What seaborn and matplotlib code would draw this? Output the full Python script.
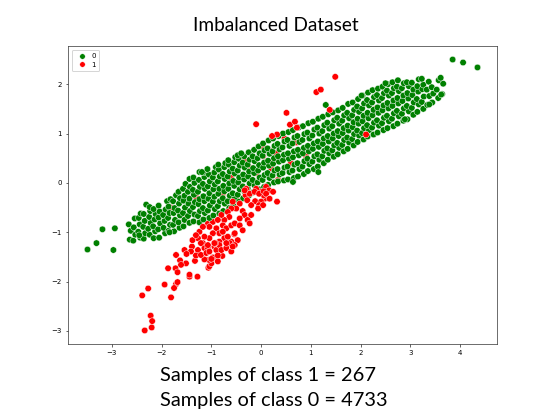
import matplotlib
matplotlib.use("Agg")
import matplotlib.pyplot as plt
import pandas as pd
import seaborn as sns

# class 0 (green band), points from left to right
green_pts = [
    (-2.64, -1.15), (-2.62, -0.97), (-2.66, -0.84),
    (-2.57, -1.17), (-2.53, -1.05), (-2.56, -0.90), (-2.54, -0.72),
    (-2.43, -1.11), (-2.47, -0.99), (-2.44, -0.84), (-2.46, -0.71), (-2.42, -0.62),
    (-2.36, -1.13), (-2.33, -1.02), (-2.37, -0.89), (-2.34, -0.77), (-2.36, -0.63), (-2.31, -0.44),
    (-2.24, -1.05), (-2.27, -0.93), (-2.22, -0.81), (-2.25, -0.69), (-2.23, -0.57), (-2.24, -0.49),
    (-2.16, -1.12), (-2.13, -0.98), (-2.17, -0.88), (-2.14, -0.74), (-2.12, -0.63), (-2.16, -0.53),
    (-2.05, -1.11), (-2.07, -0.94), (-2.03, -0.82), (-2.06, -0.70), (-2.04, -0.58), (-2.06, -0.46),
    (-1.93, -1.02), (-1.96, -0.91), (-1.94, -0.77), (-1.97, -0.65), (-1.92, -0.54), (-1.89, -0.37),
    (-1.86, -0.97), (-1.83, -0.85), (-1.87, -0.71), (-1.84, -0.61), (-1.86, -0.48), (-1.82, -0.33),
    (-1.75, -0.98), (-1.77, -0.85), (-1.73, -0.75), (-1.76, -0.61), (-1.74, -0.51), (-1.77, -0.37),
    (-1.71, -0.25),
    (-1.64, -0.91), (-1.66, -0.80), (-1.63, -0.66), (-1.67, -0.56), (-1.65, -0.42), (-1.63, -0.31),
    (-1.66, -0.18),
    (-1.56, -0.88), (-1.54, -0.75), (-1.57, -0.61), (-1.53, -0.50), (-1.56, -0.36), (-1.54, -0.26),
    (-1.57, -0.12), (-1.52, -0.02),
    (-1.44, -0.81), (-1.47, -0.67), (-1.43, -0.57), (-1.46, -0.42), (-1.44, -0.32), (-1.47, -0.18),
    (-1.43, -0.08), (-1.44, 0.08),
    (-1.36, -0.78), (-1.34, -0.64), (-1.37, -0.49), (-1.33, -0.39), (-1.35, -0.24), (-1.37, -0.14),
    (-1.34, 0.00), (-1.36, 0.11),
    (-1.24, -0.80), (-1.27, -0.67), (-1.23, -0.57), (-1.26, -0.43), (-1.24, -0.33), (-1.27, -0.18),
    (-1.23, -0.08), (-1.25, 0.06), (-1.24, 0.22),
    (-1.16, -0.74), (-1.13, -0.61), (-1.17, -0.51), (-1.14, -0.37), (-1.16, -0.27), (-1.13, -0.12),
    (-1.17, -0.02), (-1.14, 0.12), (-1.16, 0.21),
    (-1.04, -0.71), (-1.07, -0.56), (-1.03, -0.46), (-1.06, -0.32), (-1.04, -0.21), (-1.07, -0.07),
    (-1.03, 0.03), (-1.05, 0.17), (-1.08, 0.28),
    (-0.96, -0.66), (-0.93, -0.53), (-0.97, -0.38), (-0.94, -0.28), (-0.96, -0.13), (-0.93, -0.03),
    (-0.97, 0.11), (-0.94, 0.21), (-0.91, 0.32),
    (-0.84, -0.62), (-0.87, -0.47), (-0.83, -0.37), (-0.86, -0.22), (-0.84, -0.12), (-0.87, 0.03),
    (-0.83, 0.13), (-0.85, 0.27), (-0.86, 0.37),
    (-0.76, -0.57), (-0.73, -0.42), (-0.77, -0.31), (-0.74, -0.17), (-0.76, -0.06), (-0.73, 0.08),
    (-0.77, 0.18), (-0.74, 0.32), (-0.72, 0.40),
    (-0.64, -0.51), (-0.67, -0.37), (-0.63, -0.26), (-0.66, -0.12), (-0.64, -0.01), (-0.67, 0.13),
    (-0.63, 0.23), (-0.65, 0.37), (-0.66, 0.46),
    (-0.56, -0.46), (-0.53, -0.32), (-0.57, -0.21), (-0.54, -0.06), (-0.56, 0.04), (-0.53, 0.19),
    (-0.57, 0.29), (-0.54, 0.42), (-0.52, 0.52),
    (-0.44, -0.38), (-0.47, -0.24), (-0.43, -0.13), (-0.46, 0.01), (-0.44, 0.11), (-0.47, 0.25),
    (-0.43, 0.35), (-0.45, 0.49), (-0.47, 0.56),
    (-0.36, -0.31), (-0.33, -0.18), (-0.37, -0.07), (-0.34, 0.07), (-0.36, 0.17), (-0.33, 0.31),
    (-0.37, 0.41), (-0.34, 0.54),
    (-0.24, -0.25), (-0.27, -0.11), (-0.23, -0.01), (-0.26, 0.13), (-0.24, 0.23), (-0.27, 0.37),
    (-0.23, 0.47), (-0.25, 0.62),
    (-0.16, -0.19), (-0.13, -0.05), (-0.17, 0.06), (-0.14, 0.20), (-0.16, 0.30), (-0.13, 0.44),
    (-0.17, 0.54), (-0.14, 0.67),
    (-0.04, -0.13), (-0.07, 0.01), (-0.03, 0.11), (-0.06, 0.25), (-0.04, 0.36), (-0.07, 0.50),
    (-0.03, 0.60), (-0.05, 0.74),
    (0.06, -0.08), (0.03, 0.06), (0.07, 0.16), (0.04, 0.31), (0.06, 0.41), (0.03, 0.55),
    (0.07, 0.66), (0.04, 0.80),
    (0.14, -0.04), (0.17, 0.10), (0.13, 0.20), (0.16, 0.35), (0.14, 0.45), (0.17, 0.59),
    (0.13, 0.70), (0.15, 0.86),
    (0.26, 0.01), (0.23, 0.15), (0.27, 0.25), (0.24, 0.39), (0.26, 0.50), (0.23, 0.64),
    (0.27, 0.75), (0.24, 0.90),
    (0.34, 0.03), (0.37, 0.17), (0.33, 0.28), (0.36, 0.43), (0.34, 0.54), (0.37, 0.68),
    (0.33, 0.79), (0.35, 0.95),
    (0.46, 0.05), (0.43, 0.20), (0.47, 0.31), (0.44, 0.46), (0.46, 0.57), (0.43, 0.72),
    (0.47, 0.84), (0.44, 1.00),
    (0.54, 0.07), (0.57, 0.22), (0.53, 0.33), (0.56, 0.49), (0.54, 0.60), (0.57, 0.75),
    (0.53, 0.87), (0.55, 1.03),
    (0.66, 0.10), (0.63, 0.25), (0.67, 0.37), (0.64, 0.52), (0.66, 0.64), (0.63, 0.80),
    (0.67, 0.92), (0.64, 1.07),
    (0.74, 0.13), (0.77, 0.28), (0.73, 0.40), (0.76, 0.56), (0.74, 0.67), (0.77, 0.83),
    (0.73, 0.95), (0.75, 1.12),
    (0.86, 0.18), (0.83, 0.33), (0.87, 0.44), (0.84, 0.60), (0.86, 0.71), (0.83, 0.87),
    (0.87, 0.99), (0.84, 1.15),
    (0.94, 0.24), (0.97, 0.38), (0.93, 0.49), (0.96, 0.64), (0.94, 0.75), (0.97, 0.90),
    (0.93, 1.02), (0.95, 1.21),
    (1.06, 0.28), (1.03, 0.43), (1.07, 0.54), (1.04, 0.69), (1.06, 0.80), (1.03, 0.96),
    (1.07, 1.08), (1.04, 1.24),
    (1.14, 0.33), (1.17, 0.47), (1.13, 0.58), (1.16, 0.73), (1.14, 0.84), (1.17, 1.00),
    (1.13, 1.12), (1.15, 1.30),
    (1.26, 0.40), (1.23, 0.54), (1.27, 0.65), (1.24, 0.79), (1.26, 0.90), (1.23, 1.05),
    (1.27, 1.17), (1.24, 1.34),
    (1.34, 0.47), (1.37, 0.60), (1.33, 0.70), (1.36, 0.84), (1.34, 0.95), (1.37, 1.10),
    (1.33, 1.22), (1.35, 1.39),
    (1.46, 0.53), (1.43, 0.66), (1.47, 0.76), (1.44, 0.90), (1.46, 1.00), (1.43, 1.15),
    (1.47, 1.27), (1.44, 1.43),
    (1.54, 0.58), (1.57, 0.71), (1.53, 0.81), (1.56, 0.95), (1.54, 1.05), (1.57, 1.20),
    (1.53, 1.32), (1.55, 1.47),
    (1.66, 0.64), (1.63, 0.77), (1.67, 0.87), (1.64, 1.01), (1.66, 1.11), (1.63, 1.26),
    (1.67, 1.37), (1.64, 1.52),
    (1.74, 0.69), (1.77, 0.82), (1.73, 0.92), (1.76, 1.06), (1.74, 1.16), (1.77, 1.31),
    (1.73, 1.42), (1.75, 1.60),
    (1.86, 0.76), (1.83, 0.89), (1.87, 0.99), (1.84, 1.13), (1.86, 1.23), (1.83, 1.37),
    (1.87, 1.48), (1.84, 1.63),
    (1.94, 0.83), (1.97, 0.96), (1.93, 1.06), (1.96, 1.20), (1.94, 1.30), (1.97, 1.44),
    (1.93, 1.55), (1.95, 1.70),
    (2.06, 0.88), (2.03, 1.01), (2.07, 1.11), (2.04, 1.25), (2.06, 1.36), (2.03, 1.51),
    (2.07, 1.61), (2.04, 1.77),
    (2.14, 0.94), (2.17, 1.07), (2.13, 1.17), (2.16, 1.31), (2.14, 1.42), (2.17, 1.57),
    (2.13, 1.68), (2.15, 1.83),
    (2.26, 0.98), (2.23, 1.12), (2.27, 1.22), (2.24, 1.37), (2.26, 1.48), (2.23, 1.63),
    (2.27, 1.74), (2.24, 1.88),
    (2.34, 1.02), (2.37, 1.16), (2.33, 1.27), (2.36, 1.42), (2.34, 1.53), (2.37, 1.67),
    (2.33, 1.78), (2.35, 1.91),
    (2.46, 1.07), (2.43, 1.21), (2.47, 1.32), (2.44, 1.47), (2.46, 1.57), (2.43, 1.72),
    (2.47, 1.82), (2.44, 1.95),
    (2.54, 1.11), (2.57, 1.25), (2.53, 1.36), (2.56, 1.51), (2.54, 1.62), (2.57, 1.77),
    (2.53, 1.87), (2.55, 2.00),
    (2.66, 1.15), (2.63, 1.30), (2.67, 1.41), (2.64, 1.56), (2.66, 1.67), (2.63, 1.82),
    (2.67, 1.92), (2.64, 2.04),
    (2.74, 1.20), (2.77, 1.35), (2.73, 1.46), (2.76, 1.61), (2.74, 1.72), (2.77, 1.86),
    (2.73, 1.95), (2.75, 2.08),
    (2.86, 1.26), (2.83, 1.40), (2.87, 1.51), (2.84, 1.66), (2.86, 1.77), (2.83, 1.92),
    (2.87, 2.02),
    (2.94, 1.29), (2.97, 1.45), (2.93, 1.56), (2.96, 1.71), (2.94, 1.82), (2.97, 1.96),
    (2.93, 2.04),
    (3.06, 1.38), (3.03, 1.52), (3.07, 1.63), (3.04, 1.78), (3.06, 1.89), (3.03, 2.03),
    (3.14, 1.44), (3.17, 1.59), (3.13, 1.70), (3.16, 1.85), (3.14, 1.96), (3.17, 2.10),
    (3.26, 1.50), (3.23, 1.64), (3.27, 1.75), (3.24, 1.90), (3.26, 1.99), (3.23, 2.11),
    (3.34, 1.58), (3.38, 1.76), (3.33, 1.89), (3.37, 2.05),
    (3.44, 1.63), (3.46, 1.81), (3.43, 1.94),
    (3.56, 1.72), (3.53, 1.89), (3.57, 2.08),
    (3.64, 1.80), (3.66, 2.01), (3.61, 2.13),
]

# class 0 stragglers around the band
green_extra = [(-3.49, -1.35), (-3.31, -1.22), (-3.19, -0.94), (-2.94, -0.92),
               (-2.97, -1.36), (3.85, 2.50), (4.06, 2.44), (4.35, 2.34),
               (1.30, 1.58), (1.15, 0.22), (0.64, 0.02), (-2.45, -1.06),
               (-1.84, -1.00), (2.02, 1.77), (-1.19, 0.22), (3.38, 1.59),
               (2.89, 1.29), (3.62, 1.79), (-0.40, 0.60), (2.50, 2.02)]

# class 1 points sitting inside the green band (partly covered)
red_behind = [(0.04, 0.73), (0.21, 0.65), (0.31, 0.60), (0.04, 0.54), (-0.13, 0.45),
              (0.24, 0.45), (-0.20, 0.30), (0.34, 0.06), (1.18, 0.80), (0.71, 0.82),
              (0.47, 0.90), (-0.33, 0.44), (-0.80, 0.15), (-0.77, -0.22), (-1.81, -0.50),
              (-1.52, -0.73), (-1.07, -0.82), (-0.50, -0.32), (-0.97, -0.79), (0.90, 0.55),
              (1.60, 1.00), (-0.60, 0.10), (0.60, 0.40), (1.30, 0.90), (-1.30, -0.30),
              (-0.10, 0.20), (2.30, 1.50), (0.20, 0.30)]

# class 1 points drawn on top
red_front = [(1.49, 2.15), (1.11, 1.84), (1.20, 1.89), (0.51, 1.42), (-0.10, 1.19),
             (0.58, 1.18), (0.68, 1.24), (0.72, 1.12), (0.32, 0.98), (0.22, 0.95),
             (1.38, 1.48), (2.11, 0.98),
             (0.32, -0.38), (0.10, -0.08), (0.07, -0.32), (-0.02, -0.18), (-0.10, -0.12),
             (-0.12, -0.37), (-0.20, -0.45), (-0.30, -0.12), (-0.31, -0.25), (-0.23, -0.22),
             (-0.28, -0.35), (-0.37, -0.57), (-0.33, -0.65), (-0.43, -0.42), (-0.50, -0.52),
             (-0.57, -0.38), (-0.60, -0.52), (-0.67, -0.59), (-0.64, -0.69), (-0.74, -0.75),
             (-0.80, -0.65), (-0.77, -0.86), (-0.87, -0.75), (-0.90, -0.92), (-0.84, -1.02),
             (-0.70, -0.92), (-0.60, -0.86), (-0.53, -0.82), (-0.43, -0.86), (-0.37, -0.96),
             (-0.47, -1.16), (-0.60, -1.19), (-0.74, -1.12), (-0.84, -1.19), (-0.97, -1.02),
             (-1.04, -1.12), (-1.14, -1.09), (-1.24, -0.99), (-1.27, -1.12), (-1.17, -1.22),
             (-0.27, -0.75), (-0.20, -0.65), (0.05, -0.25), (0.16, -0.15), (0.00, -0.38),
             (-0.04, -0.45), (-0.23, -0.82), (-0.63, -1.22), (-0.54, -1.04),
             (-0.78, -1.48), (-0.91, -1.52), (-1.06, -1.72), (-1.28, -1.90), (-1.44, -1.90),
             (-1.72, -1.73), (-1.87, -1.73), (-1.71, -2.05), (-1.75, -2.13), (-1.94, -2.06),
             (-1.81, -2.32), (-2.27, -2.14), (-2.39, -2.28), (-2.22, -2.69), (-2.19, -2.80),
             (-2.20, -2.93), (-2.34, -2.99),
             (-0.89, -1.49), (-1.04, -1.69), (-1.00, -1.63), (-1.05, -1.56), (-1.14, -1.55),
             (-1.14, -1.32), (-1.27, -1.36), (-1.21, -1.22), (-1.39, -1.29), (-1.41, -1.39),
             (-1.54, -1.36), (-1.50, -1.44), (-1.51, -1.63), (-1.63, -1.57), (-1.61, -1.66),
             (-1.71, -1.46), (-1.68, -1.81), (-1.33, -1.58), (-1.44, -1.86), (-1.68, -2.01),
             (-0.94, -1.29), (-0.90, -1.36), (-0.84, -1.26), (-1.07, -1.32), (-0.97, -1.51),
             (-0.87, -1.59), (-1.38, -1.16),
             (-0.33, -0.15), (-0.13, -0.18), (-0.04, -0.22), (0.05, -0.17), (0.10, -0.22),
             (-1.31, -1.47), (-1.21, -1.46), (-1.10, -1.42), (-1.04, -1.39), (-0.92, -1.22),
             (-0.80, -1.36), (-0.70, -1.32), (-0.60, -1.39), (-0.53, -1.26), (-0.87, -1.47),
             (-1.00, -1.54), (-0.77, -0.99), (-0.67, -1.09), (-0.53, -1.02), (-0.43, -0.72),
             (-0.06, -0.52), (0.04, -0.45), (0.17, -0.32), (0.24, -0.18), (-1.04, -0.89),
             (-1.17, -0.89), (-1.31, -1.06), (-1.07, -1.26), (-0.94, -1.22), (-0.70, -1.22),
             (-0.57, -1.29)]

n_class1 = 267
n_class0 = 4733

# build table: hidden reds first, then green, then reds on top
rows = [(x, y, "1") for x, y in red_behind]
rows += [(x, y, "0") for x, y in green_pts + green_extra]
rows += [(x, y, "1") for x, y in red_front]
df = pd.DataFrame(rows, columns=["x", "y", "label"])

fig = plt.figure(figsize=(552 / 72, 417 / 72), dpi=72)
ax = fig.add_axes([68 / 552, 1 - 344 / 417, 429 / 552, 298 / 417])

sns.scatterplot(data=df, x="x", y="y", hue="label", hue_order=["0", "1"],
                palette={"0": "green", "1": "red"}, s=42, edgecolor="white",
                linewidth=0.45, ax=ax)

ax.set_xlabel("")
ax.set_ylabel("")
ax.tick_params(labelsize=7, length=2.5, width=0.6)
for sp in ax.spines.values():
    sp.set_linewidth(0.7)
    sp.set_color("#333333")

sns.move_legend(ax, "upper left", title=None, fontsize=7, handletextpad=0.3,
                borderpad=0.5, labelspacing=0.4, frameon=True, markerscale=0.85)

fig.text(0.5, 0.926, "Imbalanced Dataset", ha="center", va="baseline",
         fontsize=19, family="Lato")
fig.text(160 / 552, 0.087, f"Samples of class 1 = {n_class1}", ha="left",
         va="baseline", fontsize=20, family="Lato")
fig.text(160 / 552, 0.026, f"Samples of class 0 = {n_class0}", ha="left",
         va="baseline", fontsize=20, family="Lato")

fig.savefig("out.png", dpi=72)
